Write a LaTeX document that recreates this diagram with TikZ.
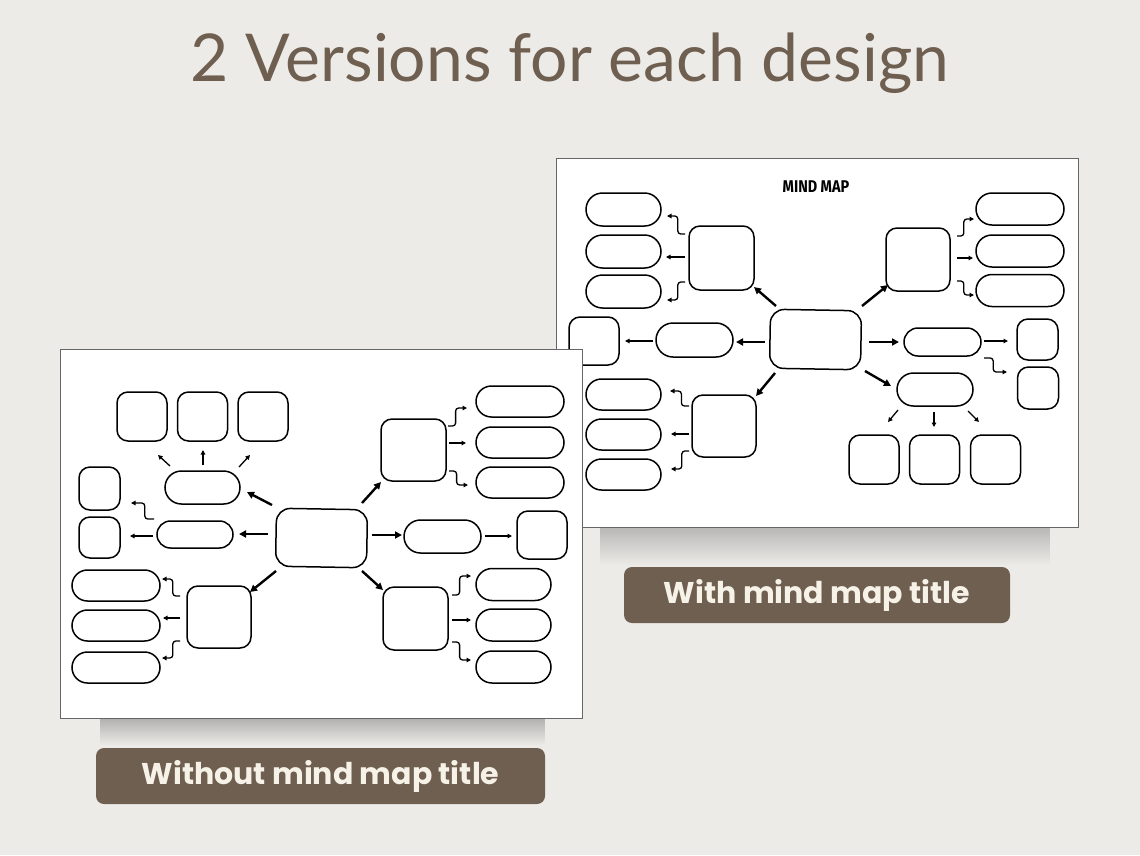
\documentclass[tikz,border=0pt]{standalone}
\usepackage{fontspec}
\setmainfont{Lato}
\newfontfamily\pop{Poppins}
\newfontfamily\mmfont[FakeStretch=0.85]{Fira Sans}
\usetikzlibrary{arrows.meta,shapes.misc,fadings}
\definecolor{bgc}{HTML}{EDEBE8}
\definecolor{brn}{HTML}{6E5F50}
\definecolor{cream}{HTML}{F7F2E8}
\tikzset{
  bx/.style={draw=black,line width=1.5pt,fill=white,inner sep=0pt},
  sq/.style={bx,rounded corners=11pt},
  pl/.style={bx,rounded rectangle},
  tk/.style={line width=2.4pt,-{Triangle[length=7pt,width=7pt]}},
  tn/.style={line width=1.3pt,-{Triangle[length=4.5pt,width=4.5pt]}},
  page/.style={fill=white,draw=black!60,line width=0.8pt},
  lab/.style={fill=brn,rounded corners=8pt,text=cream,font=\pop\bfseries\fontsize{30}{32}\selectfont,inner xsep=14pt}
}
\newcommand\Sq[5]{\node[sq,minimum width=#4,minimum height=#5] (#1) at (#2,#3) {};}
\newcommand\Pl[5]{\node[pl,minimum width=#4,minimum height=#5] (#1) at (#2,#3) {};}
\newcommand\Cv[4]{\draw[tn,rounded corners=3pt] (#1,#2) -- ({#1*0.6+#3*0.4},#2) |- (#3,#4);}
\begin{document}
\begin{tikzpicture}[x=1pt,y=-1pt]
\fill[bgc] (0,0) rectangle (1140,855);
\useasboundingbox (0,0) rectangle (1140,855);
\node[text=brn,font=\fontsize{66}{70}\selectfont] (title) at (570,63) {2 Versions for each design};
% ---- back page
\fill[black,opacity=0.22,path fading=south] (600,527) rectangle (1050,565);
\draw[page] (556,158) rectangle (1078,527);
\node[font=\mmfont\bfseries\fontsize{17}{18}\selectfont] (mt) at (816,187) {MIND MAP};
\Pl{bp1}{623.5}{209.5}{75}{33}\Pl{bp2}{623.5}{251.5}{75}{33}\Pl{bp3}{623.5}{291.5}{75}{33}
\Sq{bsq1}{721.5}{258}{65}{64}
\Pl{bml}{694.5}{340}{77}{34}
\Sq{bls}{594}{341}{50}{48}
\Sq{bsq2}{724}{426}{64}{62}
\Pl{bp4}{623.5}{394.5}{75}{31}\Pl{bp5}{623.5}{434.5}{75}{31}\Pl{bp6}{623.5}{474.5}{75}{31}
\node[sq,rounded corners=14pt,minimum width=91,minimum height=59,rotate=-1] (bc) at (815.5,339.5) {};
\Sq{bsq3}{918}{259.5}{64}{63}
\Pl{bp7}{1020}{209}{88}{32}\Pl{bp8}{1020}{251}{88}{32}\Pl{bp9}{1020}{290.5}{88}{32}
\Pl{bmr}{942.5}{342}{77}{28}
\Sq{bs1}{1037.5}{339.5}{41}{41}\Sq{bs2}{1038}{388}{41}{42}
\Pl{blr}{935}{389.5}{76}{33}
\Sq{bb1}{874}{459.5}{50}{49}\Sq{bb2}{934.5}{459.5}{50}{49}\Sq{bb3}{995.5}{459.5}{50}{49}
\draw[tk] (776,306) -- (754,287);
\draw[tk] (862,306) -- (888,285);
\draw[tk] (765,342) -- (736,342);
\draw[tk] (869,342) -- (899,342);
\draw[tk] (775,373) -- (756,396);
\draw[tk] (865,371) -- (891,386);
\draw[tn] (653,341) -- (625,341);
\draw[tn] (685,257) -- (666,257);
\Cv{685}{234}{667}{216}\Cv{685}{282}{667}{300}
\draw[tn] (689,434) -- (671,434);
\Cv{689}{406}{670}{391}\Cv{689}{451}{671}{469}
\draw[tn] (957,258) -- (973,258);
\Cv{957}{236}{974}{219}\Cv{957}{281}{974}{295}
\draw[tn] (984,341) -- (1008,341);
\Cv{984}{358}{1007}{372}
\draw[tn] (898,410) -- (888,422);
\draw[tn] (934,412) -- (934,427);
\draw[tn] (968,411) -- (979,422);
% ---- front page
\fill[black,opacity=0.25,path fading=south] (100,718) rectangle (545,745);
\draw[page] (60,349) rectangle (582,718);
\Sq{fq1}{142}{416.5}{50}{49}\Sq{fq2}{202.5}{416.5}{50}{49}\Sq{fq3}{263}{416.5}{50}{49}
\Pl{fup}{202.5}{487.5}{75}{33}
\Sq{fs1}{99.5}{488.5}{41}{43}\Sq{fs2}{99.5}{537.5}{41}{41}
\Pl{fml}{195}{534.5}{76}{27}
\node[sq,rounded corners=14pt,minimum width=91,minimum height=58,rotate=-1] (fc) at (321.5,538) {};
\Sq{fsq1}{219}{617}{64}{62}
\Pl{fp1}{116}{585.5}{88}{31}\Pl{fp2}{116}{625.5}{88}{31}\Pl{fp3}{116}{667.5}{88}{31}
\Sq{fsq2}{413.5}{450}{65}{62}
\Pl{fp4}{520}{401.5}{88}{31}\Pl{fp5}{520}{442.5}{88}{31}\Pl{fp6}{520}{482.5}{88}{31}
\Pl{fmr}{442.5}{536.5}{77}{33}
\Sq{frs}{542}{535}{50}{48}
\Sq{fsq3}{415.5}{618.5}{65}{63}
\Pl{fp7}{513.5}{584.5}{75}{32}\Pl{fp8}{513.5}{625}{75}{32}\Pl{fp9}{513.5}{667}{75}{32}
\draw[tk] (272,505) -- (247,492);
\draw[tk] (268,534) -- (239,534);
\draw[tk] (362,503) -- (381,482);
\draw[tk] (372,535) -- (402,535);
\draw[tk] (276,571) -- (250,592);
\draw[tk] (362,571) -- (383,590);
\draw[tn] (170,466) -- (158,455);
\draw[tn] (203,465) -- (203,450);
\draw[tn] (239,467) -- (250,455);
\draw[tn] (153,536) -- (130,536);
\Cv{154}{519}{131}{503}
\Cv{180}{596}{162}{579}
\draw[tn] (180,618) -- (163,618);
\Cv{180}{641}{162}{658}
\Cv{448}{426}{467}{408}
\draw[tn] (449,443) -- (466,443);
\Cv{449}{471}{468}{485}
\draw[tn] (485,536) -- (512,536);
\Cv{452}{595}{471}{576}
\draw[tn] (452,620) -- (471,620);
\Cv{452}{642}{471}{660}
% ---- labels
\node[lab,minimum width=386,minimum height=56] (l1) at (817,595) {With mind map title};
\node[lab,minimum width=449,minimum height=56] (l2) at (320.5,776) {Without mind map title};
\end{tikzpicture}
\end{document}
